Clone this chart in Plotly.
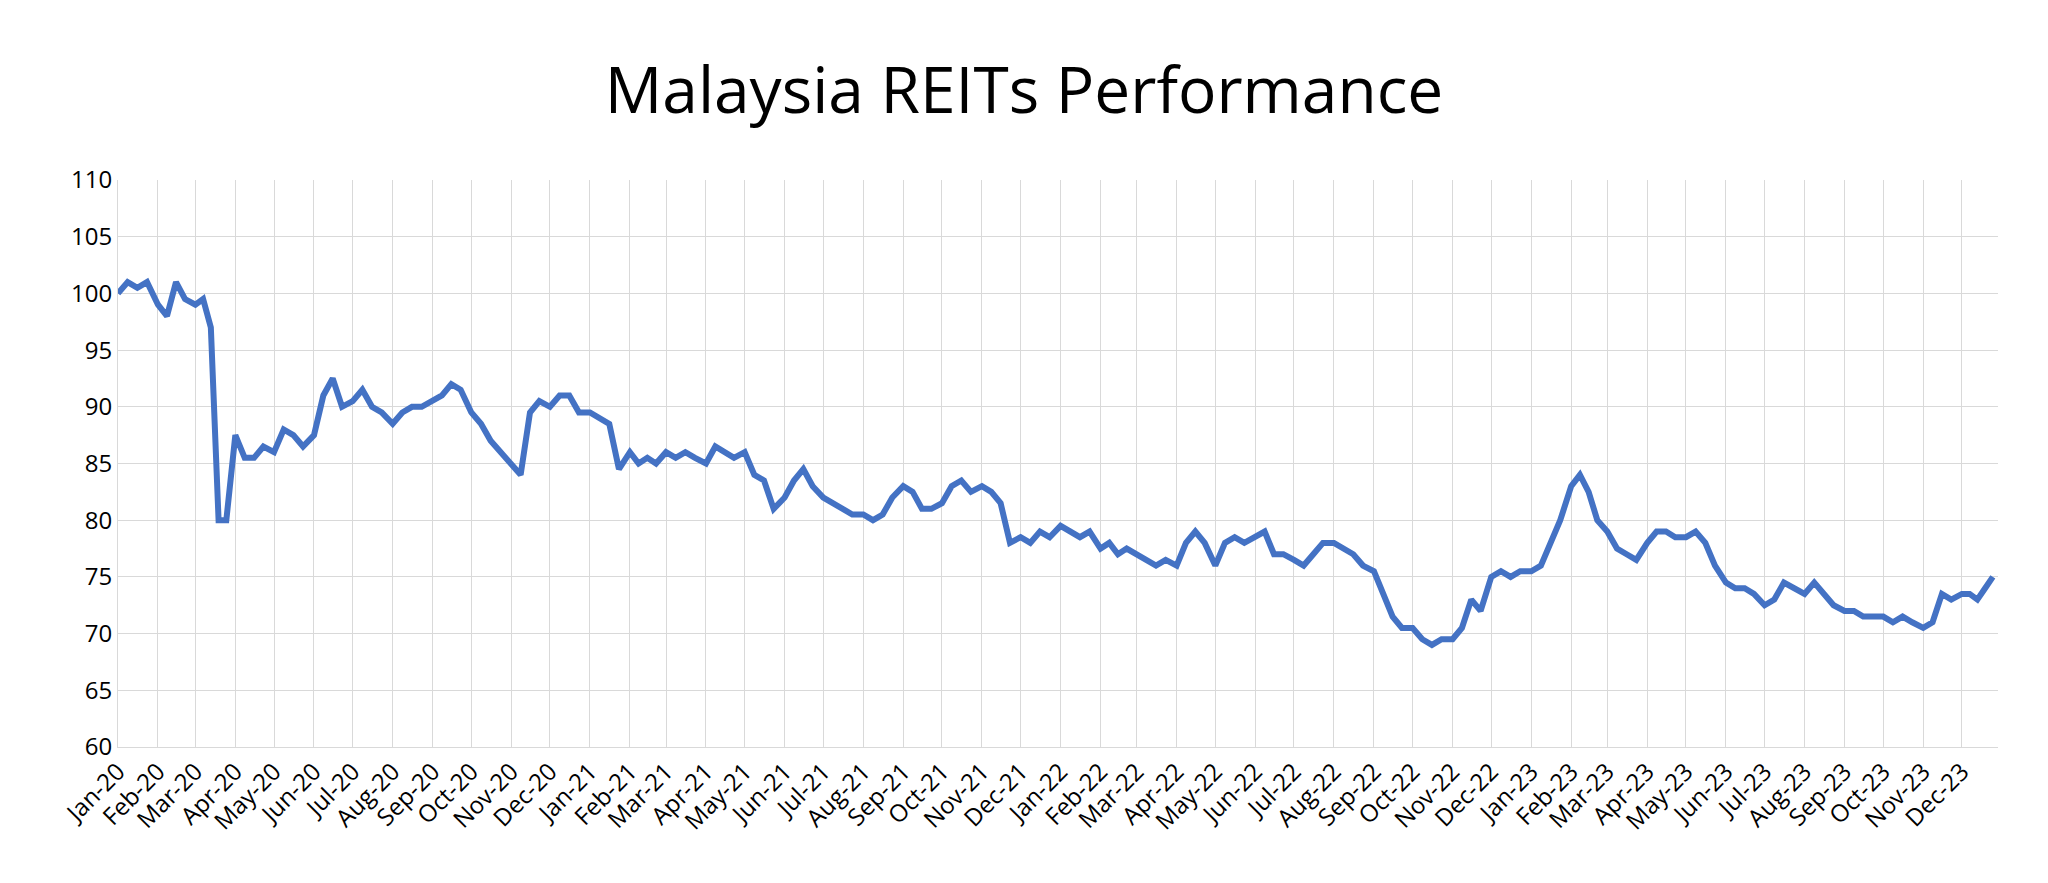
import pandas as pd
import plotly.graph_objects as go

# values, roughly weekly, grouped by month
months = pd.date_range("2020-01-01", "2023-12-01", freq="MS")
monthly_values = [
    [100, 101, 100.5, 101], [99, 98, 101, 99.5], [99, 99.5, 97, 80, 80], [87.5, 85.5, 85.5, 86.5],
    [86, 88, 87.5, 86.5], [87.5, 91, 92.5, 90], [90.5, 91.5, 90, 89.5], [88.5, 89.5, 90, 90],
    [90.5, 91, 92, 91.5], [89.5, 88.5, 87, 86], [85, 84, 89.5, 90.5], [90, 91, 91, 89.5],
    [89.5, 89, 88.5, 84.5], [86, 85, 85.5, 85], [86, 85.5, 86, 85.5], [85, 86.5, 86, 85.5],
    [86, 84, 83.5, 81], [82, 83.5, 84.5, 83], [82, 81.5, 81, 80.5], [80.5, 80, 80.5, 82],
    [83, 82.5, 81, 81], [81.5, 83, 83.5, 82.5], [83, 82.5, 81.5, 78], [78.5, 78, 79, 78.5],
    [79.5, 79, 78.5, 79], [77.5, 78, 77, 77.5], [77, 76.5, 76, 76.5], [76, 78, 79, 78],
    [76, 78, 78.5, 78], [78.5, 79, 77, 77], [76.5, 76, 77, 78], [78, 77.5, 77, 76],
    [75.5, 73.5, 71.5, 70.5], [70.5, 69.5, 69, 69.5], [69.5, 70.5, 73, 72], [75, 75.5, 75, 75.5],
    [75.5, 76, 78, 80], [83, 84, 82.5, 80], [79, 77.5, 77, 76.5], [78, 79, 79, 78.5],
    [78.5, 79, 78, 76], [74.5, 74, 74, 73.5], [72.5, 73, 74.5, 74], [73.5, 74.5, 73.5, 72.5],
    [72, 72, 71.5, 71.5], [71.5, 71, 71.5, 71], [70.5, 71, 73.5, 73], [73.5, 73.5, 73, 74, 75],
]

dates, values = [], []
for m, vals in zip(months, monthly_values):
    days = m.days_in_month
    for i, v in enumerate(vals):
        dates.append(m + pd.Timedelta(days=i * (days - 1) / len(vals)))
        values.append(v)

fig = go.Figure()
fig.add_trace(go.Scatter(x=dates, y=values, mode="lines",
                         line=dict(color="#4472C4", width=6)))
fig.update_layout(
    title=dict(text="Malaysia REITs Performance", x=0.5, y=0.93, xanchor="center",
               font=dict(size=64, color="black")),
    font=dict(family="Open Sans", size=24, color="black"),
    plot_bgcolor="white", paper_bgcolor="white",
    margin=dict(l=110, r=42, t=172, b=128),
    showlegend=False,
    xaxis=dict(type="date", range=["2020-01-01", "2023-12-29"], dtick="M1",
               tick0="2020-01-01", tickformat="%b-%y", tickangle=-45,
               showgrid=True, gridcolor="#d9d9d9", linecolor="#d9d9d9", showline=True),
    yaxis=dict(range=[60, 110], dtick=5, showgrid=True, gridcolor="#d9d9d9",
               zeroline=False, showline=True, linecolor="#d9d9d9"),
)
fig.write_html("out.html")
